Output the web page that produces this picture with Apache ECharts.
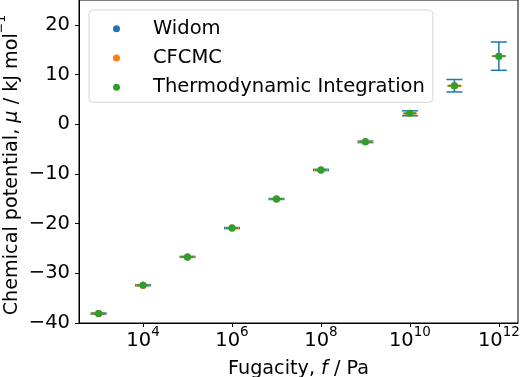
<!DOCTYPE html>
<html>
<head>
<meta charset="utf-8">
<script src="https://cdn.jsdelivr.net/npm/echarts@6/dist/echarts.min.js"></script>
<style>
html,body{margin:0;padding:0;background:#fff;}
#chart{width:520px;height:377px;}
</style>
</head>
<body>
<div id="chart"></div>
<script>
// log10 of fugacity (Pa)
const fugacityExp = [3, 4, 5, 6, 7, 8, 9, 10, 11, 12];
const widomMu  = [-38.1, -32.4, -26.7, -20.9, -15.05, -9.2, -3.55, 2.2, 7.75, 13.7];
const widomErr = [0.1, 0.1, 0.1, 0.1, 0.1, 0.12, 0.15, 0.5, 1.25, 2.85];
const cfcmcMu  = [-38.1, -32.4, -26.7, -20.9, -15.05, -9.2, -3.55, 2.15, 7.75, 13.7];
const cfcmcErr = [0.05, 0.05, 0.05, 0.05, 0.05, 0.05, 0.05, 0.05, 0.05, 0.05];
const tiMu     = [-38.1, -32.4, -26.7, -20.9, -15.05, -9.2, -3.55, 2.2, 7.75, 13.7];
const tiErr    = [0.02, 0.02, 0.02, 0.02, 0.02, 0.02, 0.02, 0.02, 0.02, 0.02];
const xTickExp = [4, 6, 8, 10, 12];
const yTicks   = [-40, -30, -20, -10, 0, 10, 20];

const C_BLUE = '#1f77b4', C_ORANGE = '#ff7f0e', C_GREEN = '#2ca02c';
const FONT = 'DejaVu Sans';
const FS = 19.5;
const FSN = 19.2;

function pts(mu) { return fugacityExp.map((x, i) => [x, mu[i]]); }
function errPts(mu, err) { return fugacityExp.map((x, i) => [x, mu[i], err[i]]); }

function errRender(color, capW) {
  return function (params, api) {
    const x = api.value(0), y = api.value(1), e = api.value(2);
    const t = api.coord([x, y + e]), b = api.coord([x, y - e]);
    const h = capW / 2;
    const st = { stroke: color, lineWidth: 1.5 };
    return {
      type: 'group',
      children: [
        { type: 'line', shape: { x1: t[0], y1: t[1], x2: b[0], y2: b[1] }, style: st },
        { type: 'line', shape: { x1: t[0] - h, y1: t[1], x2: t[0] + h, y2: t[1] }, style: st },
        { type: 'line', shape: { x1: b[0] - h, y1: b[1], x2: b[0] + h, y2: b[1] }, style: st }
      ]
    };
  };
}

function errSeries(name, mu, err, color, capW) {
  return {
    type: 'custom', name: name, data: errPts(mu, err),
    encode: { x: 0, y: 1 }, renderItem: errRender(color, capW),
    silent: true, clip: false
  };
}
function ptSeries(name, mu, color) {
  return {
    type: 'scatter', name: name, data: pts(mu), symbol: 'circle', symbolSize: 7,
    itemStyle: { color: color, opacity: 1 }
  };
}

const minus = s => String(s).replace('-', '\u2212');

const chart = echarts.init(document.getElementById('chart'), null, { renderer: 'canvas' });
chart.setOption({
  animation: false,
  backgroundColor: '#ffffff',
  textStyle: { fontFamily: FONT },
  grid: { left: 79, right: 2, top: 0, bottom: 54, containLabel: false, outerBoundsMode: 'none',
          show: true, borderColor: '#000', borderWidth: 1, backgroundColor: 'transparent' },
  legend: {
    orient: 'vertical', left: 89, top: 10,
    padding: [8.7, 8, 5, 24], itemGap: 9.3,
    itemWidth: 7, itemHeight: 7, icon: 'circle',
    backgroundColor: '#fff', borderColor: '#d6d6d6', borderWidth: 1, borderRadius: 4,
    data: ['Widom', 'CFCMC', 'Thermodynamic Integration'],
    formatter: n => '{t|' + n + '}',
    textStyle: { rich: { t: { fontFamily: FONT, fontSize: FS, color: '#000', lineHeight: 22, padding: [0, 0, 0, 28] } } }
  },
  xAxis: {
    type: 'value', min: 2.56, max: 12.43,
    name: '{n|Fugacity, }{i|f}{n| / Pa}', nameLocation: 'middle', nameGap: 37,
    nameMoveOverlap: false,
    nameTextStyle: { rich: {
      n: { fontFamily: FONT, fontSize: FSN, color: '#000' },
      i: { fontFamily: FONT, fontSize: FSN, color: '#000', fontStyle: 'italic' }
    } },
    splitLine: { show: false },
    axisLine: { show: true, onZero: false, lineStyle: { color: '#000', width: 1 } },
    axisTick: { show: true, inside: false, length: 4, customValues: xTickExp, lineStyle: { color: '#000' } },
    axisLabel: {
      customValues: xTickExp, margin: 2,
      formatter: v => '{b|10}{s|' + v + '}',
      rich: {
        b: { fontFamily: FONT, fontSize: FS, color: '#000', verticalAlign: 'bottom', lineHeight: 26 },
        s: { fontFamily: FONT, fontSize: 13.5, color: '#000', verticalAlign: 'top', lineHeight: 26 }
      }
    }
  },
  yAxis: {
    type: 'value', min: -40, max: 25,
    name: '{n|Chemical potential, }{i|\u03bc}{n| / kJ mol}{s|\u22121}', nameLocation: 'middle', nameGap: 57.5, nameRotate: 90,
    nameMoveOverlap: false,
    nameTextStyle: { align: 'center', padding: [0, 7, 0, 0], rich: {
      n: { fontFamily: FONT, fontSize: FSN, color: '#000', verticalAlign: 'bottom', lineHeight: 26 },
      i: { fontFamily: FONT, fontSize: FSN, color: '#000', fontStyle: 'italic', verticalAlign: 'bottom', lineHeight: 26 },
      s: { fontFamily: FONT, fontSize: 12.5, color: '#000', verticalAlign: 'top', lineHeight: 26 }
    } },
    splitLine: { show: false },
    axisLine: { show: true, onZero: false, lineStyle: { color: '#000', width: 1 } },
    axisTick: { show: true, inside: false, length: 4, customValues: yTicks, lineStyle: { color: '#000' } },
    axisLabel: { customValues: yTicks, margin: 9, fontFamily: FONT, fontSize: FS, color: '#000', padding: [4, 0, 0, 0], formatter: v => minus(v) }
  },
  series: [
    errSeries('Widom err', widomMu, widomErr, C_BLUE, 16),
    ptSeries('Widom', widomMu, C_BLUE),
    errSeries('CFCMC err', cfcmcMu, cfcmcErr, C_ORANGE, 14),
    ptSeries('CFCMC', cfcmcMu, C_ORANGE),
    errSeries('TI err', tiMu, tiErr, C_GREEN, 12),
    ptSeries('Thermodynamic Integration', tiMu, C_GREEN)
  ]
});
</script>
</body>
</html>
